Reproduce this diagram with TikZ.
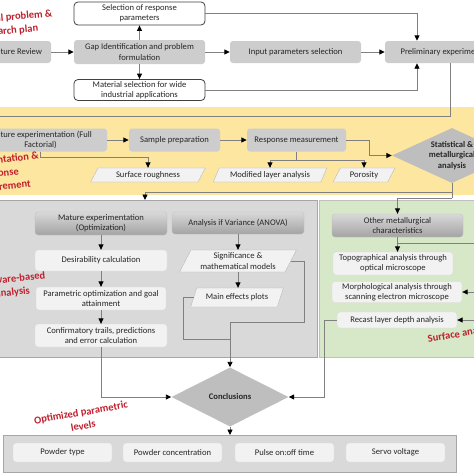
\documentclass[tikz,border=0pt]{standalone}
\usepackage{fontspec}
\setmainfont{Carlito}
\usetikzlibrary{shapes.geometric,arrows.meta}
\definecolor{boxgray}{HTML}{CDCDCD}
\definecolor{lightbox}{HTML}{F2F2F2}
\definecolor{panelgray}{HTML}{D9D9D9}
\definecolor{panelgreen}{HTML}{D6E8C8}
\definecolor{bandyellow}{HTML}{FCE6A0}
\definecolor{linegray}{HTML}{808080}
\definecolor{redlabel}{HTML}{C0202E}
\definecolor{diamgray}{HTML}{BEBEBE}
\tikzset{
  wh/.style 2 args={minimum width=#1pt,minimum height=#2pt},
  base/.style={font=\fontsize{8.6}{10.3}\selectfont, align=center, inner sep=1pt, text=black!85},
  graybox/.style={base, rectangle, rounded corners=3pt, fill=boxgray},
  gradbox/.style={base, rectangle, rounded corners=3pt, top color=white!85!black, bottom color=white!64!black, draw=white!75!black, line width=0.3pt},
  whitebox/.style={base, rectangle, rounded corners=4pt, fill=white, draw=black!75, line width=0.8pt},
  lightboxs/.style={base, rectangle, rounded corners=3pt, fill=lightbox, draw=white!85!black, line width=0.3pt},
  parabox/.style={base, trapezium, trapezium left angle=63, trapezium right angle=117, trapezium stretches=true, fill=lightbox, draw=white!70!black, line width=0.3pt},
  diam/.style={base, diamond, fill=diamgray, inner sep=0pt, font=\fontsize{8.6}{10.3}\selectfont\bfseries},
  redtxt/.style={font=\fontsize{10.5}{13.5}\selectfont\bfseries, text=redlabel, align=center, inner sep=0pt},
  conn/.style={draw=linegray, line width=0.9pt, -{Triangle[length=5.5pt,width=5pt,color=black]}},
  plainline/.style={draw=linegray, line width=0.9pt},
}
\begin{document}
\begin{tikzpicture}[x=1pt,y=-1pt]
\useasboundingbox (0,0) rectangle (474,474);
\clip (0,0) rectangle (474,474);
\fill[white] (0,0) rectangle (474,474);
% panels
\fill[bandyellow] (-5,107) rectangle (479,195);
\filldraw[fill=panelgray, draw=white!65!black, line width=0.5pt] (-5,200) rectangle (317,357);
\filldraw[fill=panelgreen, draw=white!75!black, line width=0.4pt] (319,200) rectangle (485,357);
\filldraw[fill=panelgray, draw=white!65!black, line width=0.5pt] (3,435) rectangle (456,472);

% top section
\node[graybox, wh={79}{22}] (litrev) at (11.5,52) {Literature Review};
\node[graybox, wh={131}{24}] (gap) at (139.5,52) {Gap Identification and problem\\formulation};
\node[whitebox, wh={131}{23}] (sel) at (139.5,13.5) {Selection of response\\parameters};
\node[whitebox, wh={131}{21}] (mat) at (139.5,90) {Material selection for wide\\industrial applications};
\node[graybox, wh={131}{22}] (input) at (295.5,52) {Input parameters selection};
\node[graybox, wh={131}{22}] (prelim) at (450.5,52) {Preliminary experimentation};

\draw[conn] (litrev.east) -- (gap.west);
\draw[conn] (gap.north) -- (sel.south);
\draw[conn] (gap.south) -- (mat.north);
\draw[conn] (gap.east) -- (input.west);
\draw[conn] (input.east) -- (prelim.west);
\draw[conn] (sel.east) -| ([xshift=-33.5pt]prelim.north);
\draw[conn] (mat.east) -| ([xshift=-33.5pt]prelim.south);

% yellow band
\node[graybox, wh={133}{23}] (matFF) at (40.5,140) {Mature experimentation (Full\\Factorial)};
\node[graybox, wh={91}{23}] (sample) at (174.5,140) {Sample preparation};
\node[graybox, wh={99}{23}] (resp) at (296.5,140) {Response measurement};
\node[diam, minimum width=120pt, minimum height=55pt, aspect=2.2] (stat) at (452,155.5) {Statistical \&\\metallurgical\\analysis};
\node[parabox, wh={115}{14}] (surf) at (148,175) {Surface roughness};
\node[parabox, wh={114}{14}] (mod) at (270,175) {Modified layer analysis};
\node[parabox, wh={62}{14}] (por) at (364,175) {Porosity};

\draw[conn] (prelim.south) |- (-40,116) |- (matFF.west);
\draw[conn] (matFF.east) -- (sample.west);
\draw[conn] (sample.east) -- (resp.west);
\draw[conn] (resp.east) -- ++(23,0) |- (stat.west);
\draw[plainline] (resp.south) -- ++(0,9) coordinate (rj);
\draw[conn] (rj) -| (mod.north);
\draw[conn] (rj) -| (por.north);
\draw[conn] (matFF.south) -- ++(0,6) -| (surf.north);

\coordinate (jA) at (452,192);
\coordinate (jB) at (452,198);
\coordinate (grayTop) at (145,200);
\draw[plainline] (stat.south) -- (jB);
\draw[conn] (jA) -| (grayTop);

% gray panel
\node[gradbox, wh={132}{23}] (matOpt) at (101,223.5) {Mature experimentation\\(Optimization)};
\node[lightboxs, wh={132}{21}] (desir) at (101,260.5) {Desirability calculation};
\node[lightboxs, wh={130}{23}] (param) at (101,298.5) {Parametric optimization and goal\\attainment};
\node[lightboxs, wh={132}{23}] (confirm) at (101,335.5) {Confirmatory trails, predictions\\and error calculation};
\node[gradbox, wh={132}{22}] (anova) at (238,223) {Analysis if Variance (ANOVA)};
\node[parabox, wh={117}{22}] (sig) at (238,261) {Significance \&\\mathematical models};
\node[parabox, wh={93}{19}] (mep) at (237,297.5) {Main effects plots};

\draw[conn] (matOpt.south) -- (desir.north);
\draw[conn] (desir.south) -- (param.north);
\draw[conn] (param.south) -- (confirm.north);
\draw[conn] (anova.south) -- (anova.south |- sig.north);
\draw[conn] (sig.south) -- (sig.south |- mep.north);

% green panel
\node[gradbox, wh={131}{23}] (other) at (397.5,225.5) {Other metallurgical\\characteristics};
\node[lightboxs, wh={120}{23}] (topo) at (393,263.5) {Topographical analysis through\\optical microscope};
\node[lightboxs, wh={130}{21}] (morph) at (397,292) {Morphological analysis through\\scanning electron microscope};
\node[lightboxs, wh={120}{16}] (recast) at (397,320) {Recast layer depth analysis};

\draw[conn] (jB) -| (other.north);
\draw[conn] (other.south) -- (other.south |- topo.north);
\coordinate (rA) at (485,243);
\coordinate (rB) at (485,320);
\draw[plainline] (397.5,243) -- (rA) -- (rB);
\draw[conn] (morph.east -| rA) -- (morph.east);
\draw[conn] (rB) -- (recast.east);

% conclusions
\node[diam, minimum width=117pt, minimum height=59pt, aspect=2] (concl) at (230,397) {Conclusions};
\coordinate (botTop) at (230,435);
\draw[conn] (sig.east) -| (304,322) -| (concl.north);
\draw[plainline] (mep.west) -| (183,339) -- (230,339);
\draw[conn] (confirm.south) |- (concl.west);
\draw[conn] (recast.west) -- ++(-12,0) |- (concl.east);
\draw[conn] (concl.south) -- (botTop);

% bottom panel
\node[lightboxs, wh={99}{19}] (ptype) at (62.5,452.5) {Powder type};
\node[lightboxs, wh={99}{19}] (pconc) at (172.5,452.5) {Powder concentration};
\node[lightboxs, wh={99}{19}] (pulse) at (284.5,452.5) {Pulse on:off time};
\node[lightboxs, wh={99}{19}] (servo) at (395.5,452.5) {Servo voltage};

% red labels
\node[redtxt, rotate=5, align=left, anchor=west] (lab1) at (-21,27) {Initial problem \&\\research plan};
\node[redtxt, rotate=6] (lab2) at (-1,173) {Experimentation \&\\response\\measurement};
\node[redtxt, rotate=6] (lab3) at (12,286) {Software-based\\analysis};
\node[redtxt, rotate=10] (lab4) at (82,419) {Optimized parametric\\levels};
\node[redtxt, rotate=10] (lab5) at (462,334) {Surface analysis};
\end{tikzpicture}
\end{document}
